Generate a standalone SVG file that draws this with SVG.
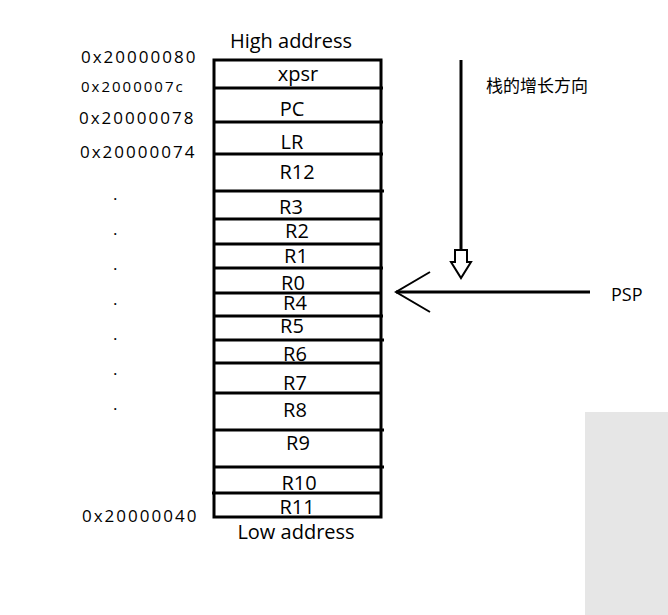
<svg xmlns="http://www.w3.org/2000/svg" width="668" height="615" viewBox="0 0 668 615">
<style>
text{font-family:"Open Sans","Noto Sans CJK SC",sans-serif;fill:#000}
.r{font-size:20px;text-anchor:middle}
.a{font-size:17px}
.d{font-size:17px;letter-spacing:2px}
line{stroke:#000;stroke-width:3}
</style>
<rect width="668" height="615" fill="#fff"/>
<rect x="585" y="412" width="83" height="203" fill="#e6e6e6"/>
<g id="stack">
<rect x="214" y="60" width="167" height="457" fill="none" stroke="#000" stroke-width="3"/>
<line x1="213" y1="88" x2="383" y2="88"/>
<line x1="213" y1="122" x2="383" y2="122"/>
<line x1="213" y1="154" x2="383" y2="154"/>
<line x1="213" y1="191" x2="384" y2="191"/>
<line x1="213" y1="219" x2="381" y2="219"/>
<line x1="213" y1="244" x2="381" y2="244"/>
<line x1="213" y1="268" x2="383" y2="268"/>
<line x1="213" y1="293" x2="381" y2="293"/>
<line x1="213" y1="316" x2="383" y2="316"/>
<line x1="213" y1="340" x2="384" y2="340"/>
<line x1="213" y1="363" x2="381" y2="363"/>
<line x1="213" y1="393" x2="381" y2="393"/>
<line x1="213" y1="430" x2="384" y2="430"/>
<line x1="213" y1="467" x2="384" y2="467"/>
<line x1="212" y1="493" x2="381" y2="493"/>
<text class="r" x="298" y="81">xpsr</text>
<text class="r" x="292" y="116">PC</text>
<text class="r" x="292" y="149">LR</text>
<text class="r" x="297" y="179">R12</text>
<text class="r" x="291" y="214">R3</text>
<text class="r" x="297" y="238">R2</text>
<text class="r" x="296" y="263">R1</text>
<text class="r" x="293" y="290">R0</text>
<text class="r" x="295" y="310">R4</text>
<text class="r" x="292" y="333">R5</text>
<text class="r" x="295" y="361">R6</text>
<text class="r" x="295" y="390">R7</text>
<text class="r" x="295" y="417">R8</text>
<text class="r" x="298" y="450">R9</text>
<text class="r" x="299" y="490">R10</text>
<text class="r" x="297" y="514">R11</text>
<text class="r" x="291" y="48">High address</text>
<text class="r" x="296" y="539">Low address</text>
</g>
<g id="addrs">
<text class="d" x="81" y="63">0x20000080</text>
<text class="d" x="81" y="92" style="font-size:15px">0x2000007c</text>
<text class="d" x="79" y="124">0x20000078</text>
<text class="d" x="80" y="158">0x20000074</text>
<text class="d" x="82" y="522">0x20000040</text>
<text class="d" x="113" y="200">.</text>
<text class="d" x="113" y="235">.</text>
<text class="d" x="113" y="270">.</text>
<text class="d" x="113" y="305">.</text>
<text class="d" x="113" y="340">.</text>
<text class="d" x="113" y="375">.</text>
<text class="d" x="113" y="410">.</text>
</g>
<g id="connectors">
<line x1="461" y1="60" x2="461" y2="250" stroke-width="2"/>
<polygon points="455,250 467,250 467,262 471,262 461,278 451,262 455,262" fill="none" stroke="#000" stroke-width="2"/>
<line x1="396" y1="292" x2="590" y2="292" stroke-width="2"/>
<polyline points="430,272 396,292 430,312" fill="none" stroke="#000" stroke-width="2"/>
</g>
<text class="a" x="486" y="92">栈的增长方向</text>
<text class="a" x="611" y="301" style="font-size:18px">PSP</text>
</svg>
